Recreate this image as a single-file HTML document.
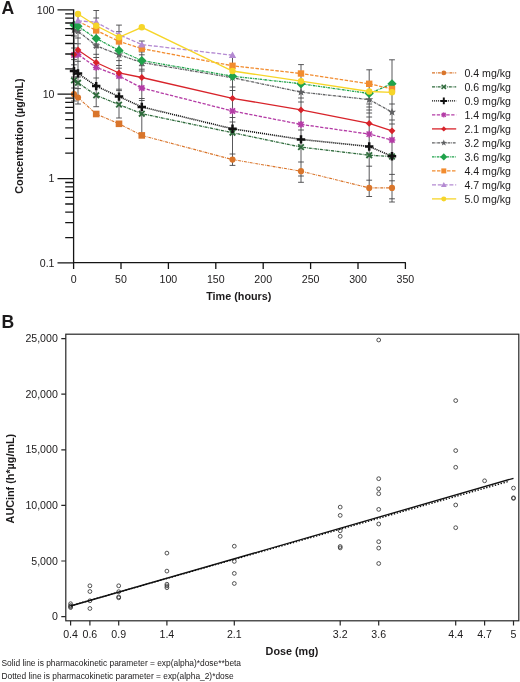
<!DOCTYPE html>
<html><head><meta charset="utf-8"><title>Figure</title>
<style>
html,body{margin:0;padding:0;background:#fff}
svg{display:block}
text{font-family:"Liberation Sans",sans-serif;fill:#1c1a1b}
.t{font-size:10.6px}
.b{font-size:10.8px;font-weight:bold}
.p{font-size:17.6px;font-weight:bold}
.f{font-size:8.4px}
</style></head><body>
<svg width="520" height="682" viewBox="0 0 520 682">
<rect width="520" height="682" fill="#fff"/>
<path d="M74.0 30.0V101.0M71.1 36H76.9M71.1 43.5H76.9M71.1 48H76.9M71.1 59.6H76.9M71.1 64.8H76.9M71.1 77H76.9M71.1 88H76.9M71.1 101H76.9M78.0 13.0V104.0M75.1 38H80.9M75.1 43.8H80.9M75.1 61.3H80.9M75.1 77H80.9M75.1 88.6H80.9M75.1 104H80.9M96.2 10.5V106.7M93.3 10.5H99.10000000000001M93.3 18H99.10000000000001M93.3 44H99.10000000000001M93.3 47.3H99.10000000000001M93.3 54.3H99.10000000000001M93.3 57.5H99.10000000000001M93.3 78H99.10000000000001M93.3 106.7H99.10000000000001M119.0 25.1V118.0M116.1 25.1H121.9M116.1 31.7H121.9M116.1 60.6H121.9M116.1 65.5H121.9M116.1 68.2H121.9M116.1 89.2H121.9M116.1 90.6H121.9M116.1 118H121.9M141.8 41.0V137.0M138.9 41H144.70000000000002M138.9 51.9H144.70000000000002M138.9 54.8H144.70000000000002M138.9 65.7H144.70000000000002M138.9 69.2H144.70000000000002M138.9 71H144.70000000000002M138.9 98.5H144.70000000000002M138.9 100.5H144.70000000000002M138.9 135H144.70000000000002M138.9 137H144.70000000000002M232.5 55.0V165.4M229.6 87H235.4M229.6 90.5H235.4M229.6 117.5H235.4M229.6 122H235.4M229.6 154H235.4M229.6 165.4H235.4M301.0 64.6V182.3M298.1 64.6H303.9M298.1 98H303.9M298.1 102H303.9M298.1 130H303.9M298.1 162H303.9M298.1 176H303.9M298.1 182.3H303.9M369.2 69.8V196.5M366.3 69.8H372.09999999999997M366.3 104H372.09999999999997M366.3 107H372.09999999999997M366.3 110H372.09999999999997M366.3 113H372.09999999999997M366.3 117H372.09999999999997M366.3 166.2H372.09999999999997M366.3 180.2H372.09999999999997M366.3 196.5H372.09999999999997M392.0 59.8V202.0M389.1 59.8H394.9M389.1 104H394.9M389.1 120H394.9M389.1 124H394.9M389.1 174.4H394.9M389.1 180.8H394.9M389.1 198.8H394.9M389.1 202H394.9" stroke="#454547" stroke-width="0.9" fill="none"/>
<polyline points="74.0,94.2 78.0,97.5 96.2,114.0 119.0,123.8 141.8,135.4 232.5,159.6 301.0,171.2 369.2,187.9 392.0,187.9" fill="none" stroke="#D9752B" stroke-width="1.1" stroke-dasharray="3 1 0.8 1"/>
<polyline points="74.0,80.4 78.0,82.8 96.2,95.3 119.0,104.6 141.8,113.7 232.5,132.7 301.0,147.1 369.2,155.2 392.0,156.5" fill="none" stroke="#2F6B3C" stroke-width="1.3" stroke-dasharray="3 0.9 0.8 0.9"/>
<polyline points="74.0,71.1 78.0,73.4 96.2,86.1 119.0,96.6 141.8,106.9 232.5,128.8 301.0,139.4 369.2,146.5 392.0,156.2" fill="none" stroke="#111111" stroke-width="1.6" stroke-dasharray="1.1 0.9"/>
<polyline points="74.0,55.0 78.0,54.4 96.2,67.4 119.0,76.0 141.8,88.0 232.5,111.0 301.0,124.4 369.2,134.1 392.0,140.0" fill="none" stroke="#B43CA6" stroke-width="1.3" stroke-dasharray="3.3 1.5"/>
<polyline points="74.0,54.4 78.0,50.0 96.2,62.5 119.0,73.0 141.8,77.5 232.5,98.3 301.0,109.9 369.2,123.4 392.0,130.8" fill="none" stroke="#D8232A" stroke-width="1.3"/>
<polyline points="74.0,30.0 78.0,31.1 96.2,45.8 119.0,54.8 141.8,62.5 232.5,77.7 301.0,92.1 369.2,99.6 392.0,112.1" fill="none" stroke="#5F6062" stroke-width="1.3" stroke-dasharray="2.8 0.8 0.8 0.8"/>
<polyline points="74.0,25.0 78.0,26.3 96.2,38.5 119.0,50.4 141.8,60.6 232.5,76.2 301.0,83.8 369.2,93.5 392.0,83.8" fill="none" stroke="#1FA24B" stroke-width="1.3" stroke-dasharray="2.5 0.8 0.8 0.8"/>
<polyline points="78.0,21.2 96.2,30.4 119.0,41.4 141.8,48.6 232.5,65.8 301.0,73.5 369.2,83.8 392.0,89.0" fill="none" stroke="#F28C2F" stroke-width="1.3" stroke-dasharray="3.5 1.5"/>
<polyline points="78.0,20.8 96.2,22.2 119.0,34.6 141.8,44.6 232.5,55.2" fill="none" stroke="#B48AD2" stroke-width="1.3" stroke-dasharray="4 1.8"/>
<polyline points="78.0,14.0 96.2,25.8 119.0,37.3 141.8,27.3 232.5,71.0 301.0,81.2 369.2,91.5 392.0,92.3" fill="none" stroke="#F6D529" stroke-width="1.3"/>
<circle cx="74.0" cy="94.2" r="3.1" fill="#D9752B"/>
<circle cx="78.0" cy="97.5" r="3.1" fill="#D9752B"/>
<rect x="92.9" y="110.7" width="6.6" height="6.6" fill="#D9752B"/>
<rect x="115.7" y="120.5" width="6.6" height="6.6" fill="#D9752B"/>
<rect x="138.5" y="132.1" width="6.6" height="6.6" fill="#D9752B"/>
<circle cx="232.5" cy="159.6" r="3.1" fill="#D9752B"/>
<circle cx="301.0" cy="171.2" r="3.1" fill="#D9752B"/>
<circle cx="369.2" cy="187.9" r="3.1" fill="#D9752B"/>
<circle cx="392.0" cy="187.9" r="3.1" fill="#D9752B"/>
<path d="M71.2 77.60000000000001L76.8 83.2M71.2 83.2L76.8 77.60000000000001" stroke="#2F6B3C" stroke-width="1.9" fill="none"/>
<path d="M75.2 80.0L80.8 85.6M75.2 85.6L80.8 80.0" stroke="#2F6B3C" stroke-width="1.9" fill="none"/>
<path d="M93.4 92.5L99.0 98.1M93.4 98.1L99.0 92.5" stroke="#2F6B3C" stroke-width="1.9" fill="none"/>
<path d="M116.2 101.8L121.8 107.39999999999999M116.2 107.39999999999999L121.8 101.8" stroke="#2F6B3C" stroke-width="1.9" fill="none"/>
<path d="M139.0 110.9L144.60000000000002 116.5M139.0 116.5L144.60000000000002 110.9" stroke="#2F6B3C" stroke-width="1.9" fill="none"/>
<path d="M229.7 129.89999999999998L235.3 135.5M229.7 135.5L235.3 129.89999999999998" stroke="#2F6B3C" stroke-width="1.9" fill="none"/>
<path d="M298.2 144.29999999999998L303.8 149.9M298.2 149.9L303.8 144.29999999999998" stroke="#2F6B3C" stroke-width="1.9" fill="none"/>
<path d="M366.4 152.39999999999998L372.0 158.0M366.4 158.0L372.0 152.39999999999998" stroke="#2F6B3C" stroke-width="1.9" fill="none"/>
<path d="M389.2 153.7L394.8 159.3M389.2 159.3L394.8 153.7" stroke="#2F6B3C" stroke-width="1.9" fill="none"/>
<path d="M69.8 71.1H78.2M74.0 66.89999999999999V75.3" stroke="#111111" stroke-width="2.5" fill="none"/>
<path d="M73.8 73.4H82.2M78.0 69.2V77.60000000000001" stroke="#111111" stroke-width="2.5" fill="none"/>
<path d="M92.0 86.1H100.4M96.2 81.89999999999999V90.3" stroke="#111111" stroke-width="2.5" fill="none"/>
<path d="M114.8 96.6H123.2M119.0 92.39999999999999V100.8" stroke="#111111" stroke-width="2.5" fill="none"/>
<path d="M137.60000000000002 106.9H146.0M141.8 102.7V111.10000000000001" stroke="#111111" stroke-width="2.5" fill="none"/>
<path d="M228.3 128.8H236.7M232.5 124.60000000000001V133.0" stroke="#111111" stroke-width="2.5" fill="none"/>
<path d="M296.8 139.4H305.2M301.0 135.20000000000002V143.6" stroke="#111111" stroke-width="2.5" fill="none"/>
<path d="M365.0 146.5H373.4M369.2 142.3V150.7" stroke="#111111" stroke-width="2.5" fill="none"/>
<path d="M387.8 156.2H396.2M392.0 152.0V160.39999999999998" stroke="#111111" stroke-width="2.5" fill="none"/>
<path d="M74.0 51.7V58.3M70.7 55.0H77.3M71.4 52.4L76.6 57.6M71.4 57.6L76.6 52.4" stroke="#B43CA6" stroke-width="1.5" fill="none"/>
<path d="M78.0 51.1V57.699999999999996M74.7 54.4H81.3M75.4 51.8L80.6 57.0M75.4 57.0L80.6 51.8" stroke="#B43CA6" stroke-width="1.5" fill="none"/>
<path d="M96.2 64.10000000000001V70.7M92.9 67.4H99.5M93.60000000000001 64.80000000000001L98.8 70.0M93.60000000000001 70.0L98.8 64.80000000000001" stroke="#B43CA6" stroke-width="1.5" fill="none"/>
<path d="M119.0 72.7V79.3M115.7 76.0H122.3M116.4 73.4L121.6 78.6M116.4 78.6L121.6 73.4" stroke="#B43CA6" stroke-width="1.5" fill="none"/>
<path d="M141.8 84.7V91.3M138.5 88.0H145.10000000000002M139.20000000000002 85.4L144.4 90.6M139.20000000000002 90.6L144.4 85.4" stroke="#B43CA6" stroke-width="1.5" fill="none"/>
<path d="M232.5 107.7V114.3M229.2 111.0H235.8M229.9 108.4L235.1 113.6M229.9 113.6L235.1 108.4" stroke="#B43CA6" stroke-width="1.5" fill="none"/>
<path d="M301.0 121.10000000000001V127.7M297.7 124.4H304.3M298.4 121.80000000000001L303.6 127.0M298.4 127.0L303.6 121.80000000000001" stroke="#B43CA6" stroke-width="1.5" fill="none"/>
<path d="M369.2 130.79999999999998V137.4M365.9 134.1H372.5M366.59999999999997 131.5L371.8 136.7M366.59999999999997 136.7L371.8 131.5" stroke="#B43CA6" stroke-width="1.5" fill="none"/>
<path d="M392.0 136.7V143.3M388.7 140.0H395.3M389.4 137.4L394.6 142.6M389.4 142.6L394.6 137.4" stroke="#B43CA6" stroke-width="1.5" fill="none"/>
<path d="M74.0 51.0L77.4 54.4L74.0 57.8L70.6 54.4Z" fill="#D8232A"/>
<path d="M78.0 46.6L81.4 50.0L78.0 53.4L74.6 50.0Z" fill="#D8232A"/>
<path d="M96.2 59.1L99.60000000000001 62.5L96.2 65.9L92.8 62.5Z" fill="#D8232A"/>
<path d="M119.0 69.6L122.4 73.0L119.0 76.4L115.6 73.0Z" fill="#D8232A"/>
<path d="M141.8 74.1L145.20000000000002 77.5L141.8 80.9L138.4 77.5Z" fill="#D8232A"/>
<path d="M232.5 94.89999999999999L235.9 98.3L232.5 101.7L229.1 98.3Z" fill="#D8232A"/>
<path d="M301.0 106.5L304.4 109.9L301.0 113.30000000000001L297.6 109.9Z" fill="#D8232A"/>
<path d="M369.2 120.0L372.59999999999997 123.4L369.2 126.80000000000001L365.8 123.4Z" fill="#D8232A"/>
<path d="M392.0 127.4L395.4 130.8L392.0 134.20000000000002L388.6 130.8Z" fill="#D8232A"/>
<path d="M74.00 25.80L75.06 28.54L77.99 28.70L75.71 30.56L76.47 33.40L74.00 31.80L71.53 33.40L72.29 30.56L70.01 28.70L72.94 28.54Z" fill="#5F6062"/>
<path d="M78.00 26.90L79.06 29.64L81.99 29.80L79.71 31.66L80.47 34.50L78.00 32.90L75.53 34.50L76.29 31.66L74.01 29.80L76.94 29.64Z" fill="#5F6062"/>
<path d="M96.20 41.60L97.26 44.34L100.19 44.50L97.91 46.36L98.67 49.20L96.20 47.60L93.73 49.20L94.49 46.36L92.21 44.50L95.14 44.34Z" fill="#5F6062"/>
<path d="M119.00 50.60L120.06 53.34L122.99 53.50L120.71 55.36L121.47 58.20L119.00 56.60L116.53 58.20L117.29 55.36L115.01 53.50L117.94 53.34Z" fill="#5F6062"/>
<path d="M141.80 58.30L142.86 61.04L145.79 61.20L143.51 63.06L144.27 65.90L141.80 64.30L139.33 65.90L140.09 63.06L137.81 61.20L140.74 61.04Z" fill="#5F6062"/>
<path d="M232.50 73.50L233.56 76.24L236.49 76.40L234.21 78.26L234.97 81.10L232.50 79.50L230.03 81.10L230.79 78.26L228.51 76.40L231.44 76.24Z" fill="#5F6062"/>
<path d="M301.00 87.90L302.06 90.64L304.99 90.80L302.71 92.66L303.47 95.50L301.00 93.90L298.53 95.50L299.29 92.66L297.01 90.80L299.94 90.64Z" fill="#5F6062"/>
<path d="M369.20 95.40L370.26 98.14L373.19 98.30L370.91 100.16L371.67 103.00L369.20 101.40L366.73 103.00L367.49 100.16L365.21 98.30L368.14 98.14Z" fill="#5F6062"/>
<path d="M392.00 107.90L393.06 110.64L395.99 110.80L393.71 112.66L394.47 115.50L392.00 113.90L389.53 115.50L390.29 112.66L388.01 110.80L390.94 110.64Z" fill="#5F6062"/>
<path d="M74.0 20.4L78.6 25.0L74.0 29.6L69.4 25.0Z" fill="#1FA24B"/>
<path d="M78.0 21.700000000000003L82.6 26.3L78.0 30.9L73.4 26.3Z" fill="#1FA24B"/>
<path d="M96.2 33.9L100.8 38.5L96.2 43.1L91.60000000000001 38.5Z" fill="#1FA24B"/>
<path d="M119.0 45.8L123.6 50.4L119.0 55.0L114.4 50.4Z" fill="#1FA24B"/>
<path d="M141.8 56.0L146.4 60.6L141.8 65.2L137.20000000000002 60.6Z" fill="#1FA24B"/>
<path d="M232.5 71.60000000000001L237.1 76.2L232.5 80.8L227.9 76.2Z" fill="#1FA24B"/>
<path d="M301.0 79.2L305.6 83.8L301.0 88.39999999999999L296.4 83.8Z" fill="#1FA24B"/>
<path d="M369.2 88.9L373.8 93.5L369.2 98.1L364.59999999999997 93.5Z" fill="#1FA24B"/>
<path d="M392.0 79.2L396.6 83.8L392.0 88.39999999999999L387.4 83.8Z" fill="#1FA24B"/>
<rect x="93.0" y="27.2" width="6.4" height="6.4" fill="#F28C2F"/>
<rect x="115.8" y="38.199999999999996" width="6.4" height="6.4" fill="#F28C2F"/>
<rect x="138.60000000000002" y="45.4" width="6.4" height="6.4" fill="#F28C2F"/>
<rect x="229.3" y="62.599999999999994" width="6.4" height="6.4" fill="#F28C2F"/>
<rect x="297.8" y="70.3" width="6.4" height="6.4" fill="#F28C2F"/>
<rect x="366.0" y="80.6" width="6.4" height="6.4" fill="#F28C2F"/>
<rect x="388.8" y="85.8" width="6.4" height="6.4" fill="#F28C2F"/>
<path d="M78.0 17.1L81.7 23.575000000000003H74.3Z" fill="#B48AD2"/>
<path d="M96.2 18.5L99.9 24.975H92.5Z" fill="#B48AD2"/>
<path d="M119.0 30.900000000000002L122.7 37.375H115.3Z" fill="#B48AD2"/>
<path d="M141.8 40.9L145.5 47.375H138.10000000000002Z" fill="#B48AD2"/>
<path d="M232.5 51.5L236.2 57.975H228.8Z" fill="#B48AD2"/>
<circle cx="78.0" cy="14.0" r="3.2" fill="#F6D529"/>
<circle cx="96.2" cy="25.8" r="3.2" fill="#F6D529"/>
<circle cx="119.0" cy="37.3" r="3.2" fill="#F6D529"/>
<circle cx="141.8" cy="27.3" r="3.2" fill="#F6D529"/>
<circle cx="232.5" cy="71.0" r="3.2" fill="#F6D529"/>
<circle cx="301.0" cy="81.2" r="3.2" fill="#F6D529"/>
<circle cx="369.2" cy="91.5" r="3.2" fill="#F6D529"/>
<circle cx="392.0" cy="92.3" r="3.2" fill="#F6D529"/>
<path d="M73.6 9.3V262.7H405.9M57.5 9.9H73.6M57.5 94.2H73.6M57.5 178.6H73.6M57.5 262.9H73.6M65.2 68.9H73.6M65.2 54.0H73.6M65.2 43.5H73.6M65.2 35.3H73.6M65.2 28.6H73.6M65.2 23.0H73.6M65.2 18.1H73.6M65.2 13.8H73.6M65.2 153.2H73.6M65.2 138.4H73.6M65.2 127.8H73.6M65.2 119.6H73.6M65.2 113.0H73.6M65.2 107.3H73.6M65.2 102.4H73.6M65.2 98.1H73.6M65.2 237.6H73.6M65.2 222.7H73.6M65.2 212.2H73.6M65.2 204.0H73.6M65.2 197.3H73.6M65.2 191.7H73.6M65.2 186.8H73.6M65.2 182.5H73.6M73.6 262.7V269M121.0 262.7V269M168.4 262.7V269M215.8 262.7V269M263.2 262.7V269M310.6 262.7V269M358.0 262.7V269M405.4 262.7V269" stroke="#141414" stroke-width="1.3" fill="none"/>
<text x="54.5" y="13.6" text-anchor="end" class="t">100</text>
<text x="54.5" y="98.0" text-anchor="end" class="t">10</text>
<text x="54.5" y="182.3" text-anchor="end" class="t">1</text>
<text x="54.5" y="266.6" text-anchor="end" class="t">0.1</text>
<text x="73.6" y="282.8" text-anchor="middle" class="t">0</text>
<text x="121.0" y="282.8" text-anchor="middle" class="t">50</text>
<text x="168.4" y="282.8" text-anchor="middle" class="t">100</text>
<text x="215.8" y="282.8" text-anchor="middle" class="t">150</text>
<text x="263.2" y="282.8" text-anchor="middle" class="t">200</text>
<text x="310.6" y="282.8" text-anchor="middle" class="t">250</text>
<text x="358.0" y="282.8" text-anchor="middle" class="t">300</text>
<text x="405.4" y="282.8" text-anchor="middle" class="t">350</text>
<text x="238.8" y="300.1" text-anchor="middle" class="b">Time (hours)</text>
<text transform="translate(23.2 136) rotate(-90)" text-anchor="middle" class="b">Concentration (µg/mL)</text>
<text x="1.4" y="13.8" class="p">A</text>
<text x="1.6" y="327.9" class="p">B</text>
<path d="M432 72.9H456.2" stroke="#D9752B" stroke-width="1.3" fill="none" stroke-dasharray="3 1 0.8 1"/>
<g transform="translate(443.8 72.9) scale(0.78)"><circle cx="0" cy="0" r="3.1" fill="#D9752B"/></g>
<text x="464.4" y="76.7" class="t">0.4 mg/kg</text>
<path d="M432 86.9H456.2" stroke="#2F6B3C" stroke-width="1.3" fill="none" stroke-dasharray="3 0.9 0.8 0.9"/>
<g transform="translate(443.8 86.9) scale(0.78)"><path d="M-2.8 -2.8L2.8 2.8M-2.8 2.8L2.8 -2.8" stroke="#2F6B3C" stroke-width="1.9" fill="none"/></g>
<text x="464.4" y="90.7" class="t">0.6 mg/kg</text>
<path d="M432 100.9H456.2" stroke="#111111" stroke-width="1.3" fill="none" stroke-dasharray="1.1 0.9"/>
<g transform="translate(443.8 100.9) scale(0.78)"><path d="M-4.2 0H4.2M0 -4.2V4.2" stroke="#111111" stroke-width="2.5" fill="none"/></g>
<text x="464.4" y="104.7" class="t">0.9 mg/kg</text>
<path d="M432 114.9H456.2" stroke="#B43CA6" stroke-width="1.3" fill="none" stroke-dasharray="3.3 1.5"/>
<g transform="translate(443.8 114.9) scale(0.78)"><path d="M0 -3.3V3.3M-3.3 0H3.3M-2.6 -2.6L2.6 2.6M-2.6 2.6L2.6 -2.6" stroke="#B43CA6" stroke-width="1.5" fill="none"/></g>
<text x="464.4" y="118.7" class="t">1.4 mg/kg</text>
<path d="M432 128.9H456.2" stroke="#D8232A" stroke-width="1.3" fill="none"/>
<g transform="translate(443.8 128.9) scale(0.78)"><path d="M0 -3.4L3.4 0L0 3.4L-3.4 0Z" fill="#D8232A"/></g>
<text x="464.4" y="132.7" class="t">2.1 mg/kg</text>
<path d="M432 142.9H456.2" stroke="#5F6062" stroke-width="1.3" fill="none" stroke-dasharray="2.8 0.8 0.8 0.8"/>
<g transform="translate(443.8 142.9) scale(0.78)"><path d="M0.00 -4.20L1.06 -1.46L3.99 -1.30L1.71 0.56L2.47 3.40L0.00 1.80L-2.47 3.40L-1.71 0.56L-3.99 -1.30L-1.06 -1.46Z" fill="#5F6062"/></g>
<text x="464.4" y="146.7" class="t">3.2 mg/kg</text>
<path d="M432 156.9H456.2" stroke="#1FA24B" stroke-width="1.3" fill="none" stroke-dasharray="2.5 0.8 0.8 0.8"/>
<g transform="translate(443.8 156.9) scale(0.78)"><path d="M0 -4.6L4.6 0L0 4.6L-4.6 0Z" fill="#1FA24B"/></g>
<text x="464.4" y="160.7" class="t">3.6 mg/kg</text>
<path d="M432 170.9H456.2" stroke="#F28C2F" stroke-width="1.3" fill="none" stroke-dasharray="3.5 1.5"/>
<g transform="translate(443.8 170.9) scale(0.78)"><rect x="-3.2" y="-3.2" width="6.4" height="6.4" fill="#F28C2F"/></g>
<text x="464.4" y="174.7" class="t">4.4 mg/kg</text>
<path d="M432 184.9H456.2" stroke="#B48AD2" stroke-width="1.3" fill="none" stroke-dasharray="4 1.8"/>
<g transform="translate(443.8 184.9) scale(0.78)"><path d="M0 -3.7L3.7 2.7750000000000004H-3.7Z" fill="#B48AD2"/></g>
<text x="464.4" y="188.7" class="t">4.7 mg/kg</text>
<path d="M432 198.9H456.2" stroke="#F6D529" stroke-width="1.3" fill="none"/>
<g transform="translate(443.8 198.9) scale(0.78)"><circle cx="0" cy="0" r="3.2" fill="#F6D529"/></g>
<text x="464.4" y="202.7" class="t">5.0 mg/kg</text>
<rect x="65.8" y="334.2" width="453" height="286.6" fill="none" stroke="#262626" stroke-width="1.2"/>
<text x="57.8" y="620.2" text-anchor="end" class="t">0</text>
<text x="57.8" y="564.6" text-anchor="end" class="t">5,000</text>
<text x="57.8" y="509.0" text-anchor="end" class="t">10,000</text>
<text x="57.8" y="453.4" text-anchor="end" class="t">15,000</text>
<text x="57.8" y="397.8" text-anchor="end" class="t">20,000</text>
<text x="57.8" y="342.2" text-anchor="end" class="t">25,000</text>
<text x="70.6" y="637.6" text-anchor="middle" class="t">0.4</text>
<text x="89.9" y="637.6" text-anchor="middle" class="t">0.6</text>
<text x="118.7" y="637.6" text-anchor="middle" class="t">0.9</text>
<text x="166.9" y="637.6" text-anchor="middle" class="t">1.4</text>
<text x="234.3" y="637.6" text-anchor="middle" class="t">2.1</text>
<text x="340.2" y="637.6" text-anchor="middle" class="t">3.2</text>
<text x="378.7" y="637.6" text-anchor="middle" class="t">3.6</text>
<text x="455.7" y="637.6" text-anchor="middle" class="t">4.4</text>
<text x="484.6" y="637.6" text-anchor="middle" class="t">4.7</text>
<text x="513.5" y="637.6" text-anchor="middle" class="t">5</text>
<path d="M61.3 616.6H65.8M61.3 561.0H65.8M61.3 505.4H65.8M61.3 449.8H65.8M61.3 394.2H65.8M61.3 338.6H65.8M70.6 620.8V625.4M89.9 620.8V625.4M118.7 620.8V625.4M166.9 620.8V625.4M234.3 620.8V625.4M340.2 620.8V625.4M378.7 620.8V625.4M455.7 620.8V625.4M484.6 620.8V625.4M513.5 620.8V625.4" stroke="#262626" stroke-width="1.2" fill="none"/>
<circle cx="70.6" cy="603.7" r="1.9" fill="none" stroke="#2a2a2a" stroke-width="0.8"/>
<circle cx="70.6" cy="605.6" r="1.9" fill="none" stroke="#2a2a2a" stroke-width="0.8"/>
<circle cx="70.6" cy="606.6" r="1.9" fill="none" stroke="#2a2a2a" stroke-width="0.8"/>
<circle cx="70.6" cy="607.6" r="1.9" fill="none" stroke="#2a2a2a" stroke-width="0.8"/>
<circle cx="89.9" cy="585.8" r="1.9" fill="none" stroke="#2a2a2a" stroke-width="0.8"/>
<circle cx="89.9" cy="591.5" r="1.9" fill="none" stroke="#2a2a2a" stroke-width="0.8"/>
<circle cx="89.9" cy="600.8" r="1.9" fill="none" stroke="#2a2a2a" stroke-width="0.8"/>
<circle cx="89.9" cy="608.5" r="1.9" fill="none" stroke="#2a2a2a" stroke-width="0.8"/>
<circle cx="118.7" cy="585.8" r="1.9" fill="none" stroke="#2a2a2a" stroke-width="0.8"/>
<circle cx="118.7" cy="591.7" r="1.9" fill="none" stroke="#2a2a2a" stroke-width="0.8"/>
<circle cx="118.7" cy="596.9" r="1.9" fill="none" stroke="#2a2a2a" stroke-width="0.8"/>
<circle cx="118.7" cy="597.8" r="1.9" fill="none" stroke="#2a2a2a" stroke-width="0.8"/>
<circle cx="166.9" cy="553.1" r="1.9" fill="none" stroke="#2a2a2a" stroke-width="0.8"/>
<circle cx="166.9" cy="571.1" r="1.9" fill="none" stroke="#2a2a2a" stroke-width="0.8"/>
<circle cx="166.9" cy="584.2" r="1.9" fill="none" stroke="#2a2a2a" stroke-width="0.8"/>
<circle cx="166.9" cy="585.9" r="1.9" fill="none" stroke="#2a2a2a" stroke-width="0.8"/>
<circle cx="166.9" cy="587.7" r="1.9" fill="none" stroke="#2a2a2a" stroke-width="0.8"/>
<circle cx="234.3" cy="546.2" r="1.9" fill="none" stroke="#2a2a2a" stroke-width="0.8"/>
<circle cx="234.3" cy="561.4" r="1.9" fill="none" stroke="#2a2a2a" stroke-width="0.8"/>
<circle cx="234.3" cy="573.4" r="1.9" fill="none" stroke="#2a2a2a" stroke-width="0.8"/>
<circle cx="234.3" cy="583.5" r="1.9" fill="none" stroke="#2a2a2a" stroke-width="0.8"/>
<circle cx="340.2" cy="507.1" r="1.9" fill="none" stroke="#2a2a2a" stroke-width="0.8"/>
<circle cx="340.2" cy="515.4" r="1.9" fill="none" stroke="#2a2a2a" stroke-width="0.8"/>
<circle cx="340.2" cy="530.8" r="1.9" fill="none" stroke="#2a2a2a" stroke-width="0.8"/>
<circle cx="340.2" cy="536.3" r="1.9" fill="none" stroke="#2a2a2a" stroke-width="0.8"/>
<circle cx="340.2" cy="546.5" r="1.9" fill="none" stroke="#2a2a2a" stroke-width="0.8"/>
<circle cx="340.2" cy="547.9" r="1.9" fill="none" stroke="#2a2a2a" stroke-width="0.8"/>
<circle cx="378.7" cy="340.0" r="1.9" fill="none" stroke="#2a2a2a" stroke-width="0.8"/>
<circle cx="378.7" cy="478.7" r="1.9" fill="none" stroke="#2a2a2a" stroke-width="0.8"/>
<circle cx="378.7" cy="488.8" r="1.9" fill="none" stroke="#2a2a2a" stroke-width="0.8"/>
<circle cx="378.7" cy="493.7" r="1.9" fill="none" stroke="#2a2a2a" stroke-width="0.8"/>
<circle cx="378.7" cy="509.4" r="1.9" fill="none" stroke="#2a2a2a" stroke-width="0.8"/>
<circle cx="378.7" cy="524.0" r="1.9" fill="none" stroke="#2a2a2a" stroke-width="0.8"/>
<circle cx="378.7" cy="541.7" r="1.9" fill="none" stroke="#2a2a2a" stroke-width="0.8"/>
<circle cx="378.7" cy="548.1" r="1.9" fill="none" stroke="#2a2a2a" stroke-width="0.8"/>
<circle cx="378.7" cy="563.5" r="1.9" fill="none" stroke="#2a2a2a" stroke-width="0.8"/>
<circle cx="455.7" cy="400.6" r="1.9" fill="none" stroke="#2a2a2a" stroke-width="0.8"/>
<circle cx="455.7" cy="450.6" r="1.9" fill="none" stroke="#2a2a2a" stroke-width="0.8"/>
<circle cx="455.7" cy="467.3" r="1.9" fill="none" stroke="#2a2a2a" stroke-width="0.8"/>
<circle cx="455.7" cy="505.0" r="1.9" fill="none" stroke="#2a2a2a" stroke-width="0.8"/>
<circle cx="455.7" cy="527.7" r="1.9" fill="none" stroke="#2a2a2a" stroke-width="0.8"/>
<circle cx="484.6" cy="480.8" r="1.9" fill="none" stroke="#2a2a2a" stroke-width="0.8"/>
<circle cx="513.5" cy="488.1" r="1.9" fill="none" stroke="#2a2a2a" stroke-width="0.8"/>
<circle cx="513.5" cy="497.8" r="1.9" fill="none" stroke="#2a2a2a" stroke-width="0.8"/>
<circle cx="513.5" cy="498.4" r="1.9" fill="none" stroke="#2a2a2a" stroke-width="0.8"/>
<path d="M70.6 605.8L508 481.6" stroke="#111" stroke-width="1.4" stroke-dasharray="1.4 1.6" fill="none"/>
<path d="M70.6 606L513.5 478.3" stroke="#111" stroke-width="1.35" fill="none"/>
<text x="292" y="655.2" text-anchor="middle" class="b">Dose (mg)</text>
<text transform="translate(14.3 478.6) rotate(-90)" text-anchor="middle" class="b">AUCinf (h*µg/mL)</text>
<text x="1.5" y="666.1" class="f">Solid line is pharmacokinetic parameter = exp(alpha)*dose**beta</text>
<text x="1.5" y="678.6" class="f">Dotted line is pharmacokinetic parameter = exp(alpha_2)*dose</text>
</svg>
</body></html>
